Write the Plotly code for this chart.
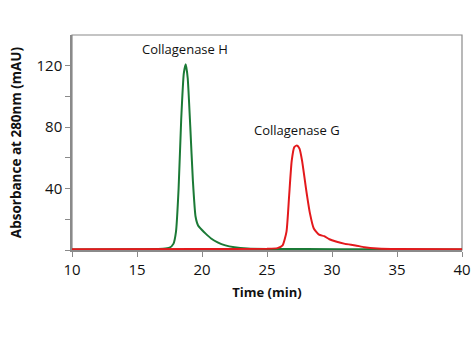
import plotly.graph_objects as go

# Collagenase H (green)
time_h = [10, 15, 17, 17.5, 17.8, 18.0, 18.2, 18.4, 18.6, 18.75, 18.9, 19.1, 19.3, 19.5, 19.7, 20.0, 20.3, 20.7, 21.2, 21.8, 22.5, 23.5, 25, 28, 33, 35, 40]
abs_h = [0.4, 0.5, 0.8, 1.5, 4, 12, 40, 85, 115, 121, 112, 80, 45, 22, 16, 13, 10.5, 7.5, 5, 3, 1.8, 1.0, 0.7, 0.6, 0.5, 0.4, 0.4]

# Collagenase G (red)
time_g = [10, 20, 25, 25.8, 26.2, 26.5, 26.7, 26.9, 27.1, 27.3, 27.5, 27.7, 28.0, 28.3, 28.6, 29.0, 29.4, 29.8, 30.3, 31, 31.8, 32.5, 33.5, 35, 40]
abs_g = [0.5, 0.6, 0.8, 1.2, 3, 12, 35, 58, 67, 68, 66, 58, 40, 24, 14, 10, 9, 7, 5.5, 4, 3, 1.8, 1.0, 0.6, 0.5]

x_ticks = [10, 15, 20, 25, 30, 35, 40]
y_ticks = [0, 20, 40, 60, 80, 100, 120]
y_labels = ["", "", "40", "", "80", "", "120"]

FONT = "Open Sans"
AXIS_COLOR = "#8a8a8a"

fig = go.Figure()
fig.add_trace(go.Scatter(x=time_h, y=abs_h, mode="lines",
                         line=dict(color="#1b7a36", width=2, shape="spline", smoothing=0.5),
                         name="Collagenase H", showlegend=False))
fig.add_trace(go.Scatter(x=time_g, y=abs_g, mode="lines",
                         line=dict(color="#e3191c", width=2, shape="spline", smoothing=0.5),
                         name="Collagenase G", showlegend=False))

fig.add_annotation(x=18.7, y=124, text="Collagenase H", showarrow=False,
                   yanchor="bottom", font=dict(family=FONT, size=13, color="#111"))
fig.add_annotation(x=27.3, y=71, text="Collagenase G", showarrow=False,
                   yanchor="bottom", font=dict(family=FONT, size=13, color="#111"))

# plot frame
fig.add_shape(type="rect", xref="paper", yref="paper", x0=0, y0=0, x1=1, y1=1,
              line=dict(color=AXIS_COLOR, width=1.2), layer="below")

fig.update_layout(
    template="none",
    width=474, height=351,
    margin=dict(l=72, r=12, t=35, b=101, autoexpand=False),
    paper_bgcolor="white", plot_bgcolor="white",
    font=dict(family=FONT, size=14, color="#111"),
    xaxis=dict(range=[10, 40], tickvals=x_ticks, showgrid=False, zeroline=False, automargin=False,
               showline=True, linecolor=AXIS_COLOR, linewidth=1.5, layer="below traces",
               ticks="outside", ticklen=5, tickcolor=AXIS_COLOR,
               tickfont=dict(family=FONT, size=15, color="#111"),
               title=dict(text="<b>Time (min)</b>", font=dict(family=FONT, size=13, color="#111"), standoff=10)),
    yaxis=dict(range=[0, 140], tickvals=y_ticks, ticktext=y_labels, showgrid=False, zeroline=False, automargin=False,
               showline=True, linecolor=AXIS_COLOR, linewidth=1.5, layer="below traces",
               ticks="outside", ticklen=5, tickcolor=AXIS_COLOR,
               tickfont=dict(family=FONT, size=15, color="#111"),
               title=dict(text="<b>Absorbance at 280nm (mAU)</b>", font=dict(family=FONT, size=13.5, color="#111"), standoff=12)),
)

fig.write_html("out.html")
